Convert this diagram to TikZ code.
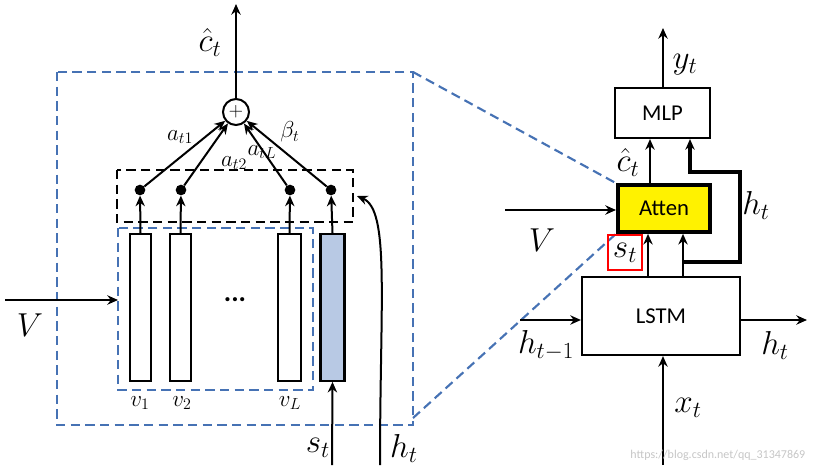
\documentclass[tikz,border=0pt]{standalone}
\usepackage{fontspec}
\setmainfont{Carlito}
\usetikzlibrary{arrows.meta}
\begin{document}
\begin{tikzpicture}[x=0.75pt,y=-0.75pt,
 ar/.style={-{Stealth[length=8pt,width=7pt]},line width=1.5pt},
 bd/.style={draw={rgb,255:red,70;green,114;blue,180},line width=1.6pt,dash pattern=on 7pt off 4pt},
 bar/.style={draw,line width=1.6pt,fill=white},
 dot/.style={circle,fill,inner sep=0pt,minimum size=8pt},
 lab/.style={font=\fontsize{17}{19}\selectfont},
 big/.style={font=\fontsize{23}{25}\selectfont},
 box/.style={draw,line width=1.6pt,font=\fontsize{17}{19}\selectfont}]
\useasboundingbox (0,0) rectangle (814,471);
% left
\draw[bd] (57,72) rectangle (413,425);
\draw[bd] (118,228) rectangle (313,390);
\draw[line width=1.6pt,dash pattern=on 7pt off 4pt] (117,170) rectangle (353,222);
\node[circle,draw,line width=1.5pt,minimum size=19.5pt,inner sep=0pt,font=\Large] (p) at (236,112) {$+$};
\coordinate (top) at (236,4);
\draw[ar] (p) -- (top);
\node[big] at (210,42) {$\hat{c}_t$};
\foreach \n/\x in {1/140,2/181,3/290,4/331}{
  \node[dot] (d\n) at (\x,190) {};
  \draw[ar] (d\n) -- (p);
}
\node[bar,minimum width=15.5pt,minimum height=110pt,inner sep=0pt,anchor=north] (b1) at (140.5,233) {};
\node[bar,minimum width=15.5pt,minimum height=110pt,inner sep=0pt,anchor=north] (b2) at (180.5,233) {};
\node[bar,minimum width=17pt,minimum height=110pt,inner sep=0pt,anchor=north] (b3) at (289.5,233) {};
\node[bar,fill={rgb,255:red,184;green,201;blue,228},minimum width=18pt,minimum height=110pt,inner sep=0pt,anchor=north] (b4) at (332.5,233) {};
\foreach \n in {1,2,3,4}{\draw[ar] (b\n.north) -- (d\n);}
\node[font=\huge\bfseries] at (235,300) {...};
\node[lab] at (180,137) {$a_{t1}$};
\node[lab] at (234,163) {$a_{t2}$};
\node[lab] at (262,152) {$a_{tL}$};
\node[lab] at (290,132) {$\beta_t$};
\node[lab] at (140,403) {$v_1$};
\node[lab] at (182,403) {$v_2$};
\node[lab] at (290,403) {$v_L$};
\coordinate (vs) at (5,300); \coordinate (ve) at (118,300);
\draw[ar] (vs) -- (ve);
\node[big] at (30,325) {$V$};
\coordinate (ss) at (332,465);
\draw[ar] (ss) -- (b4.south);
\node[big] at (318,448) {$s_t$};
\coordinate (hs) at (380,465); \coordinate (he) at (357,196);
\draw[ar] (hs) .. controls (380,300) and (390,210) .. (he);
\node[big] at (404,448) {$h_t$};
% right
\node[box,minimum width=71pt,minimum height=37.5pt,inner sep=0pt] (mlp) at (662.5,113) {MLP};
\node[box,line width=3pt,fill=yellow,minimum width=69pt,minimum height=35pt,inner sep=0pt] (att) at (664,208.5) {Atten};
\node[box,minimum width=118.5pt,minimum height=58.5pt,inner sep=0pt] (lstm) at (661,316) {LSTM};
\draw[bd] (413,72) -- (att.north west);
\draw[bd] (413,418) -- (att.south west);
\coordinate (yt) at (663,28);
\draw[ar] (mlp.north -| 663,0) -- (yt);
\node[big] at (685,65) {$y_t$};
\draw[ar] (att.north -| 650,0) -- (mlp.south -| 650,0);
\node[big] at (628,162) {$\hat{c}_t$};
\draw[ar] (lstm.north -| 648,0) -- (att.south -| 648,0);
\draw[ar] (lstm.north -| 683,0) -- (att.south -| 683,0);
\draw[line width=3pt] (683,262) -- (740,262) -- (740,172) -- (690,172);
\draw[ar,line width=3pt] (690,173.5) -- (mlp.south -| 690,0);
\node[big] at (756,205) {$h_t$};
\coordinate (v2) at (505,210);
\draw[ar] (v2) -- (att.west |- 0,210);
\node[big] at (542,240) {$V$};
\node[big,inner sep=0pt] (sb) at (625,252.5) {$s_t$};
\draw[red,line width=0.8pt] (608,235) rectangle (642,270);
\coordinate (h1) at (520,320);
\draw[ar] (h1) -- (lstm.west |- 0,320);
\node[big] at (546,345) {$h_{t-1}$};
\coordinate (h2) at (807,320);
\draw[ar] (lstm.east |- 0,320) -- (h2);
\node[big] at (775,345) {$h_t$};
\coordinate (xt) at (663,465);
\draw[ar] (xt) -- (lstm.south -| 663,0);
\node[big] at (688,408) {$x_t$};
\node[gray!45,font=\small,anchor=east] at (810,455) {https://blog.csdn.net/qq\_31347869};
\end{tikzpicture}
\end{document}
